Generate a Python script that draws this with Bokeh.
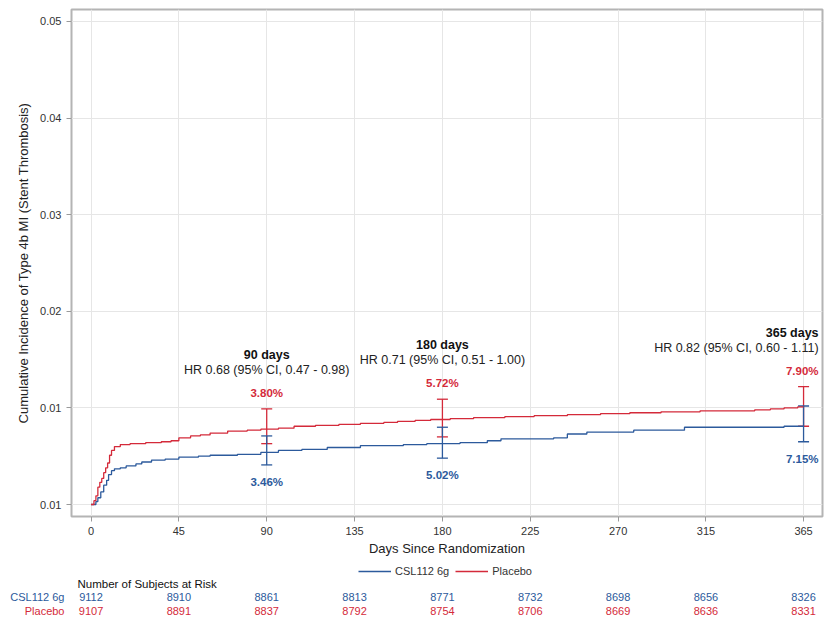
from bokeh.plotting import figure
from bokeh.models import Range1d, FixedTicker, ColumnDataSource, Whisker, TeeHead, Legend, LegendItem
from bokeh.layouts import column
from bokeh.embed import file_html
from bokeh.resources import INLINE
from bokeh.core.properties import value

# ---------------- data ----------------
pl_days = [0, 1.5, 2.5, 3.5, 4.5, 5.5, 6.5, 7.5, 8.5, 9.5, 10.5, 12, 15, 20, 28, 36, 41, 45, 51, 56,
           61, 70, 80, 87, 96, 104, 115, 127, 138, 150, 157, 166, 174, 184, 196, 212, 227, 244, 261, 276,
           292, 312, 326, 340, 348, 355, 362, 365]
pl_cum = [0, .0004, .0009, .0018, .0023, .0027, .0033, .0038, .0043, .0051, .0056, .0060, .0062, .0063, .0064,
          .0065, .0066, .0069, .0071, .0072, .0074, .0076, .0077, .0078, .0079, .0081, .0082, .0083, .0084, .0085,
          .0086, .0087, .0088, .0089, .0090, .0091, .0092, .0093, .0094, .0095, .0096, .0097, .0097, .0098,
          .0099, .0100, .0101, .0101]

csl_days = [0, 2.5, 3.5, 5, 6.5, 8, 9, 10.5, 12, 15, 18, 23, 26, 31, 38, 45, 55, 61, 75, 87,
            96, 108, 121, 138, 160, 172, 189, 203, 210, 237, 244, 254, 278, 304, 355, 365]
csl_cum = [0, .0003, .0007, .0013, .0020, .0025, .0031, .0035, .0037, .0038, .0040, .0042, .0044, .0046,
           .0047, .0049, .0050, .0051, .0052, .0054, .0056, .0057, .0059, .0061, .0062, .0063, .0064, .0066,
           .0068, .0069, .0073, .0075, .0077, .0080, .0081, .0081]

ci_days = [90, 180, 365]
pl_lo = [0.0063, 0.0070, 0.0081]
pl_hi = [0.0099, 0.0109, 0.0122]
csl_lo = [0.0041, 0.0048, 0.0065]
csl_hi = [0.0071, 0.0080, 0.0102]
headers = ["90 days", "180 days", "365 days"]
hr_text = ["HR 0.68 (95% CI, 0.47 - 0.98)", "HR 0.71 (95% CI, 0.51 - 1.00)", "HR 0.82 (95% CI, 0.60 - 1.11)"]
pl_pct = ["3.80%", "5.72%", "7.90%"]
csl_pct = ["3.46%", "5.02%", "7.15%"]

x_ticks = [0, 45, 90, 135, 180, 225, 270, 315, 365]
y_ticks = [0.0, 0.01, 0.02, 0.03, 0.04, 0.05]
y_tick_labels = ["0.01", "0.01", "0.02", "0.03", "0.04", "0.05"]

risk_days = [0, 45, 90, 135, 180, 225, 270, 315, 365]
csl_risk = [9112, 8910, 8861, 8813, 8771, 8732, 8698, 8656, 8326]
pl_risk = [9107, 8891, 8837, 8792, 8754, 8706, 8669, 8636, 8331]
groups = ["CSL112 6g", "Placebo"]
risk_title = "Number of Subjects at Risk"

# ---------------- style ----------------
BLUE = "#2c5a9c"
RED = "#d42a3a"
FONT = "Liberation Sans"
W = 832
FL, FR = 71, 822           # frame left / right in px
X0, X1 = -10.0, 374.7
MAIN_H = 558

p = figure(width=W, height=MAIN_H, output_backend="svg", toolbar_location=None,
           x_range=Range1d(X0, X1), y_range=Range1d(-0.00124, 0.05124),
           min_border_left=FL, min_border_right=W - FR, min_border_top=9,
           min_border_bottom=MAIN_H - 516)
p.outline_line_color = "#b4b4b4"
p.outline_line_width = 2
p.background_fill_color = "white"
p.border_fill_color = "white"

p.xaxis.ticker = FixedTicker(ticks=x_ticks)
p.yaxis.ticker = FixedTicker(ticks=y_ticks)
p.yaxis.major_label_overrides = {t: l for t, l in zip(y_ticks, y_tick_labels)}
for ax in (p.xaxis, p.yaxis):
    ax.axis_line_color = None
    ax.major_tick_line_color = "#9a9a9a"
    ax.major_tick_out = 5
    ax.major_tick_in = 0
    ax.minor_tick_line_color = None
    ax.major_label_text_font = FONT
    ax.major_label_text_font_size = "11px"
    ax.major_label_text_color = "#333333"
    ax.axis_label_text_font = FONT
    ax.axis_label_text_font_style = "normal"
    ax.axis_label_text_color = "#222222"
    ax.axis_label_text_font_size = "13px"
p.xaxis.major_label_standoff = 5
p.yaxis.major_label_standoff = 5
p.xaxis.axis_label = "Days Since Randomization"
p.xaxis.axis_label_standoff = 3
p.yaxis.axis_label = "Cumulative Incidence of Type 4b MI (Stent Thrombosis)"
p.yaxis.axis_label_standoff = 6
p.xgrid.ticker = FixedTicker(ticks=x_ticks)
p.ygrid.ticker = FixedTicker(ticks=y_ticks)
p.grid.grid_line_color = "#e6e6e6"
p.grid.grid_line_width = 1

p.step(csl_days, csl_cum, mode="after", line_color=BLUE, line_width=1.3)
p.step(pl_days, pl_cum, mode="after", line_color=RED, line_width=1.3)

src = ColumnDataSource(dict(x=ci_days, pl_lo=pl_lo, pl_hi=pl_hi, csl_lo=csl_lo, csl_hi=csl_hi,
                            hdr=headers, hr=hr_text, plp=pl_pct, cslp=csl_pct))
for lo, hi, col in (("pl_lo", "pl_hi", RED), ("csl_lo", "csl_hi", BLUE)):
    w = Whisker(source=src, base="x", lower=lo, upper=hi, line_color=col, line_width=1.3,
                upper_head=TeeHead(size=11, line_color=col, line_width=1.3),
                lower_head=TeeHead(size=11, line_color=col, line_width=1.3))
    p.add_layout(w)

def labels(view_slice, align, xoff):
    s = ColumnDataSource({k: v[view_slice] for k, v in src.data.items()})
    common = dict(source=s, text_align=align, text_baseline="middle", x_offset=xoff,
                  text_font=value(FONT))
    p.text(x="x", y="pl_hi", text="hdr", y_offset=-54, text_font_size="12.5px",
           text_font_style="bold", text_color="#111111", **common)
    p.text(x="x", y="pl_hi", text="hr", y_offset=-39, text_font_size="12.5px",
           text_color="#222222", **common)
    p.text(x="x", y="pl_hi", text="plp", y_offset=-16, text_font_size="11.5px",
           text_font_style="bold", text_color=RED, **common)
    p.text(x="x", y="csl_lo", text="cslp", y_offset=17, text_font_size="11.5px",
           text_font_style="bold", text_color=BLUE, **common)

labels(slice(0, 2), "center", 0)
labels(slice(2, 3), "right", 15)

# ---------------- legend + risk table ----------------
ppd = (FR - FL) / (X1 - X0)

def px2day(px):
    return X0 + (px - FL) / ppd

def strip(f):
    f.grid.visible = False
    f.background_fill_color = "white"
    f.border_fill_color = "white"
    f.outline_line_color = None

# legend + table title strip (page y 558..590)
H_T = 32
t = figure(width=W, height=H_T, output_backend="svg", toolbar_location=None,
           x_range=p.x_range, y_range=Range1d(H_T, 0),
           min_border_left=FL, min_border_right=W - FR, min_border_top=0, min_border_bottom=0)
strip(t)
t.axis.visible = False
nan = float("nan")
k_csl = t.line(x=[nan], y=[nan], line_color=BLUE, line_width=1.3)
k_pl = t.line(x=[nan], y=[nan], line_color=RED, line_width=1.3)
legend = Legend(items=[LegendItem(label=groups[0], renderers=[k_csl]),
                       LegendItem(label=groups[1], renderers=[k_pl])],
                orientation="horizontal", location=(358 - FL, H_T - (569 - MAIN_H) - 8),
                border_line_color=None, background_fill_alpha=0,
                label_text_font=FONT, label_text_font_size="11px", label_text_color="#333333",
                glyph_width=33, glyph_height=12, label_height=12, label_standoff=4,
                spacing=6, padding=2, margin=0)
t.add_layout(legend)
t.text(x=[px2day(77)], y=[583 - MAIN_H], text=[risk_title], text_font=value(FONT),
       text_font_size="11.5px", text_color="#111111", text_baseline="middle", text_align="left")

# one strip per group row; the row name is the strip's y-axis label
rows = []
row_specs = [(groups[0], csl_risk, BLUE, 13, 6.5), (groups[1], pl_risk, RED, 21, 7)]
for name, counts, col, h, cy in row_specs:
    r = figure(width=W, height=h, output_backend="svg", toolbar_location=None,
               x_range=p.x_range, y_range=Range1d(cy - h, cy),
               min_border_left=FL, min_border_right=W - FR, min_border_top=0, min_border_bottom=0)
    strip(r)
    r.xaxis.visible = False
    r.yaxis.ticker = FixedTicker(ticks=[0])
    r.yaxis.major_label_overrides = {0: name}
    r.yaxis.axis_line_color = None
    r.yaxis.major_tick_line_color = None
    r.yaxis.minor_tick_line_color = None
    r.yaxis.major_label_standoff = 1
    r.yaxis.major_label_text_font = FONT
    r.yaxis.major_label_text_font_size = "11px"
    r.yaxis.major_label_text_color = col
    r.text(x=risk_days, y=[0] * len(risk_days), text=[str(v) for v in counts], text_color=col,
           text_font=value(FONT), text_font_size="11px", text_baseline="middle", text_align="center")
    rows.append(r)

layout = column(p, t, *rows, spacing=0)
open("out.html", "w").write(file_html(layout, INLINE))
